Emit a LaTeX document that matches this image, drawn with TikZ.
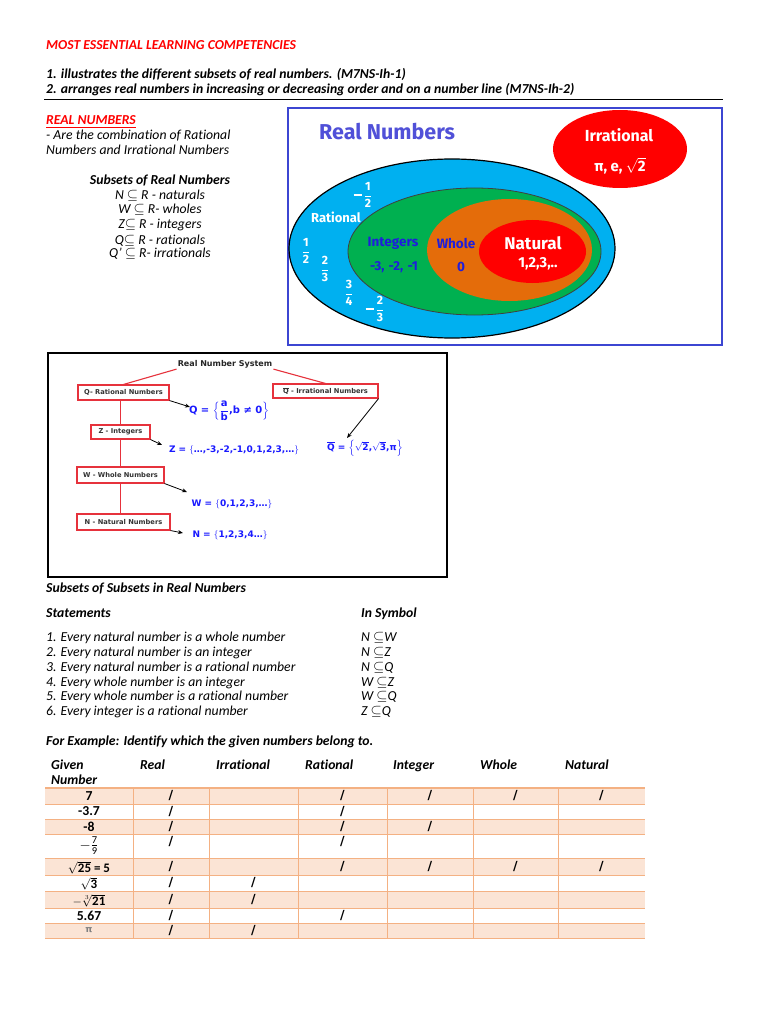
\documentclass[tikz,border=0pt]{standalone}
\usepackage{fontspec}
\usepackage{amsmath}
\setmainfont{Carlito}[Ligatures=NoCommon]
\newfontfamily\vennf{Fira Sans}
\newfontfamily\dvf{DejaVu Sans}
\usetikzlibrary{shapes.geometric,arrows.meta,calc}
\definecolor{cyanv}{RGB}{0,176,240}
\definecolor{greenv}{RGB}{0,176,80}
\definecolor{orangev}{RGB}{228,108,10}
\definecolor{titleblue}{RGB}{80,80,216}
\definecolor{vblue}{RGB}{30,30,220}
\definecolor{boxblue}{RGB}{60,70,210}
\definecolor{redbox}{RGB}{230,50,60}
\definecolor{fblue}{RGB}{25,25,255}
\definecolor{peach}{RGB}{251,228,213}
\definecolor{tline}{RGB}{244,177,131}
\newcommand\bodysz{\fontsize{13.7}{15}\selectfont}
\newcommand\vminus{\rule[3.2pt]{8pt}{1.8pt}\hspace{2pt}}
\newcommand\smd[1]{\mbox{\fontsize{10.5}{10.5}\selectfont\mdseries #1}}
\begin{document}
\begin{tikzpicture}[x=1pt,y=-1pt,
  txt/.style={anchor=base west, inner sep=0pt, font=\bodysz\itshape},
  txtb/.style={anchor=base west, inner sep=0pt, font=\bodysz\bfseries\itshape},
  ctr/.style={anchor=base, inner sep=0pt, font=\bodysz\itshape},
  ell/.style={ellipse, inner sep=0pt},
  vt/.style={inner sep=0pt, font=\vennf\bfseries\fontsize{13}{15}\selectfont},
  fr/.style={inner sep=0pt, text=white, font=\vennf\bfseries\fontsize{12}{14}\selectfont},
  tbox/.style={draw=redbox, line width=1.1pt, fill=white, inner sep=0pt, font=\dvf\bfseries\fontsize{6.7}{8}\selectfont, text=black!80},
  redln/.style={draw=redbox, line width=1.1pt},
  arr/.style={-{Stealth[length=5pt,width=4pt]}, line width=0.8pt},
  form/.style={inner sep=0pt, text=fblue, font=\dvf\bfseries\fontsize{9}{11}\selectfont},
  cell/.style={inner sep=0pt, font=\bodysz\bfseries},
  slashmk/.style={inner sep=0pt, font=\dvf\bfseries\fontsize{12.5}{13}\selectfont},
  hdr/.style={anchor=base west, inner sep=0pt, font=\bodysz\bfseries\itshape},
]
\useasboundingbox (0,0) rectangle (768,1024);
\fill[white] (0,0) rectangle (768,1024);

% ---------- header ----------
\node[txtb, text=red] (h0) at (46,50) {MOST ESSENTIAL LEARNING COMPETENCIES};
\node[txtb] (h1) at (46,79) {1. illustrates the different subsets of real numbers. (M7NS-Ih-1)};
\node[txtb] (h2) at (46,94) {2. arranges real numbers in increasing or decreasing order and on a number line (M7NS-Ih-2)};
\draw[line width=1.2pt] (44,99.5) -- (723,99.5);

% ---------- left text ----------
\node[txtb, text=red] (rn) at (46,125) {\underline{REAL NUMBERS}};
\node[txt] (rn1) at (46,140) {- Are the combination of Rational};
\node[txt] (rn2) at (46,155) {Numbers and Irrational Numbers};
\node[ctr, font=\bodysz\bfseries\itshape] (ss) at (160,185) {Subsets of Real Numbers};
\node[ctr] (s1) at (160,200) {N $\subseteq$ R - naturals};
\node[ctr] (s2) at (160,214) {W $\subseteq$ R- wholes};
\node[ctr] (s3) at (160,229) {Z$\subseteq$ R - integers};
\node[ctr] (s4) at (160,244) {Q$\subseteq$ R - rationals};
\node[ctr] (s5) at (160,258) {Q’ $\subseteq$ R- irrationals};

% ---------- Venn diagram ----------
\draw[boxblue, line width=1.3pt] (288,108) rectangle (722,345);
\node[anchor=west, inner sep=0pt, text=titleblue, font=\vennf\bfseries\fontsize{21.5}{24}\selectfont] (vt0) at (319,132) {Real Numbers};
\node[ell, fill=red, minimum width=134pt, minimum height=78pt] (irr) at (620,149) {};
\node[vt, text=white, font=\vennf\bfseries\fontsize{16}{18}\selectfont] (irrt) at (619,135) {Irrational};
\node[vt, text=white, font=\vennf\bfseries\fontsize{15}{17}\selectfont] (irrv) at (620,166) {π, e, $\sqrt{\mbox{2}}$};

\node[ell, fill=cyanv, draw=black, line width=1.2pt, minimum width=326pt, minimum height=179pt] (rat) at (452,248.5) {};
\node[ell, fill=greenv, draw=black!75, line width=0.8pt, minimum width=253pt, minimum height=127pt] (int) at (474.5,251.5) {};
\node[ell, fill=orangev, minimum width=165pt, minimum height=102pt] (whl) at (509.5,250) {};
\node[ell, fill=red, minimum width=107pt, minimum height=63pt] (nat) at (532.5,251.5) {};

\node[vt, text=white, font=\vennf\bfseries\fontsize{17}{19}\selectfont] (natt) at (533,243) {Natural};
\node[vt, text=white, font=\vennf\bfseries\fontsize{14.5}{16}\selectfont] (natv) at (538,264) {1,2,3,..};
\node[vt, text=vblue, font=\vennf\bfseries\fontsize{13.5}{15}\selectfont] (whlt) at (456,243) {Whole};
\node[vt, text=vblue, font=\vennf\bfseries\fontsize{13.5}{15}\selectfont] (whlv) at (461,267) {0};
\node[vt, text=vblue, font=\vennf\bfseries\fontsize{13.5}{15}\selectfont] (intt) at (393,243) {Integers};
\node[vt, text=vblue, font=\vennf\bfseries\fontsize{13}{15}\selectfont] (intv) at (394,267) {-3,\,\,-2,\,\,-1};
\node[vt, text=white] (ratt) at (336,217) {Rational};
\node[fr] (fa) at (363,195) {\vminus$\displaystyle\frac{\mbox{1}}{\mbox{2}}$};
\node[fr] (fb) at (306,251) {$\displaystyle\frac{\mbox{1}}{\mbox{2}}$};
\node[fr] (fc) at (325,269) {$\displaystyle\frac{\mbox{2}}{\mbox{3}}$};
\node[fr] (fd) at (349,293) {$\displaystyle\frac{\mbox{3}}{\mbox{4}}$};
\node[fr] (fe) at (375,309) {\vminus$\displaystyle\frac{\mbox{2}}{\mbox{3}}$};

% ---------- Real Number System ----------
\draw[line width=2.5pt] (48,353) rectangle (447,577);
\node[inner sep=1pt, font=\dvf\bfseries\fontsize{8}{10}\selectfont, text=black!85] (rns) at (225,364) {Real Number System};
\node[tbox, minimum width=91pt, minimum height=15pt] (qbox) at (123.5,392.5) {Q- Rational Numbers};
\node[tbox, minimum width=105pt, minimum height=14pt] (irbox) at (325.5,391) {$\overline{\mbox{Q}}$ - Irrational Numbers};
\node[tbox, minimum width=59pt, minimum height=14pt] (zbox) at (120.5,432) {Z - Integers};
\node[tbox, minimum width=87pt, minimum height=16pt] (wbox) at (120.5,475) {W - Whole Numbers};
\node[tbox, minimum width=93pt, minimum height=16pt] (nbox) at (123.5,522) {N - Natural Numbers};

\draw[redln] (rns.south west) -- (qbox.north);
\draw[redln] (rns.south east) -- (irbox.north);
\draw[redln] (qbox.south -| zbox.north) -- (zbox.north);
\draw[redln] (zbox.south) -- (wbox.north);
\draw[redln] (wbox.south) -- (nbox.north -| wbox.south);

\node[form, font=\dvf\bfseries\fontsize{10}{12}\selectfont] (qf) at (229,411) {Q = $\left\{\dfrac{\mbox{a}}{\mbox{b}}\mbox{,b ≠ 0}\right\}$};
\node[form] (zf) at (234,450) {Z = $\{$…,-3,-2,-1,0,1,2,3,…$\}$};
\node[form] (irf) at (365,448) {$\overline{\mbox{Q}}$ = $\Big\{\sqrt{\mbox{2}}$,$\sqrt{\mbox{3}}$,π$\Big\}$};
\node[form] (wf) at (232,504) {W = $\{$0,1,2,3,…$\}$};
\node[form] (nf) at (230,535) {N = $\{$1,2,3,4…$\}$};

\coordinate (qt) at (190,407);
\coordinate (zt) at (162,445);
\coordinate (wt) at (187,492);
\coordinate (nt) at (183,533);
\coordinate (it) at (347,438);
\draw[arr] (qbox.south east) -- (qt);
\draw[arr] (zbox.south east) -- (zt);
\draw[arr] (wbox.south east) -- (wt);
\draw[arr] (nbox.south east) -- (nt);
\draw[arr] (irbox.south east) -- (it);

% ---------- statements ----------
\node[txtb] (sos) at (46,592) {Subsets of Subsets in Real Numbers};
\node[txtb] (st) at (46,617) {Statements};
\node[txtb] (isy) at (361,617) {In Symbol};
\node[txt] (e1) at (46,641) {1. Every natural number is a whole number};
\node[txt] (e2) at (46,656) {2. Every natural number is an integer};
\node[txt] (e3) at (46,671) {3. Every natural number is a rational number};
\node[txt] (e4) at (46,686) {4. Every whole number is an integer};
\node[txt] (e5) at (46,700) {5. Every whole number is a rational number};
\node[txt] (e6) at (46,715) {6. Every integer is a rational number};
\node[txt] (y1) at (361,641) {N $\subseteq$W};
\node[txt] (y2) at (361,656) {N $\subseteq$Z};
\node[txt] (y3) at (361,671) {N $\subseteq$Q};
\node[txt] (y4) at (361,686) {W $\subseteq$Z};
\node[txt] (y5) at (361,700) {W $\subseteq$Q};
\node[txt] (y6) at (361,715) {Z $\subseteq$Q};
\node[txtb] (fex) at (46,745) {For Example: Identify which the given numbers belong to.};

% ---------- table ----------
\node[hdr] (c0) at (51,769) {Given};
\node[hdr] (c0b) at (51,784) {Number};
\node[hdr] (c1) at (140,769) {Real};
\node[hdr] (c2) at (216,769) {Irrational};
\node[hdr] (c3) at (305,769) {Rational};
\node[hdr] (c4) at (393,769) {Integer};
\node[hdr] (c5) at (480,769) {Whole};
\node[hdr] (c6) at (565,769) {Natural};

\fill[peach] (45,788) rectangle (645,804);
\fill[peach] (45,819) rectangle (645,834);
\fill[peach] (45,858) rectangle (645,875);
\fill[peach] (45,891.5) rectangle (645,908);
\fill[peach] (45,923) rectangle (645,938);
\foreach \yy in {804,819,834,858,875,891.5,908,923,938}
  \draw[tline, line width=0.8pt] (45,\yy) -- (645,\yy);
\draw[tline, line width=1.6pt] (45,788) -- (645,788);
\foreach \xx in {133,209,298,387,473,558}
  \draw[tline, line width=0.8pt] (\xx,788) -- (\xx,938);

\node[cell] (g1) at (89,796) {7};
\node[cell] (g2) at (89,811.5) {-3.7};
\node[cell] (g3) at (89,826.5) {-8};
\node[cell] (g4) at (89,845.5) {$-\frac{\smd{7}}{\smd{9}}$};
\node[cell, font=\fontsize{13}{14}\selectfont\bfseries] (g5) at (89,867.5) {$\sqrt{\mbox{25}}$ = 5};
\node[cell, font=\fontsize{13}{14}\selectfont\bfseries] (g6) at (89,883.5) {$\sqrt{\mbox{3}}$};
\node[cell, font=\fontsize{13}{14}\selectfont\bfseries] (g7) at (89,900.5) {$-\sqrt[3]{\mbox{21}}$};
\node[cell] (g8) at (89,915.5) {5.67};
\node[cell, text=gray, font=\dvf\bfseries\fontsize{9}{11}\selectfont] (g9) at (89,930.5) {π};

\foreach \cx/\cy [count=\i] in {
  171/796,342.5/796,430/796,515.5/796,601.5/796,
  171/811.5,342.5/811.5,
  171/826.5,342.5/826.5,430/826.5,
  171/842,342.5/842,
  171/866.5,342.5/866.5,430/866.5,515.5/866.5,601.5/866.5,
  171/883,253.5/883,
  171/899.5,253.5/899.5,
  171/915.5,342.5/915.5,
  171/930.5,253.5/930.5}
  \node[slashmk] (mk\i) at (\cx,\cy) {/};
\end{tikzpicture}
\end{document}
